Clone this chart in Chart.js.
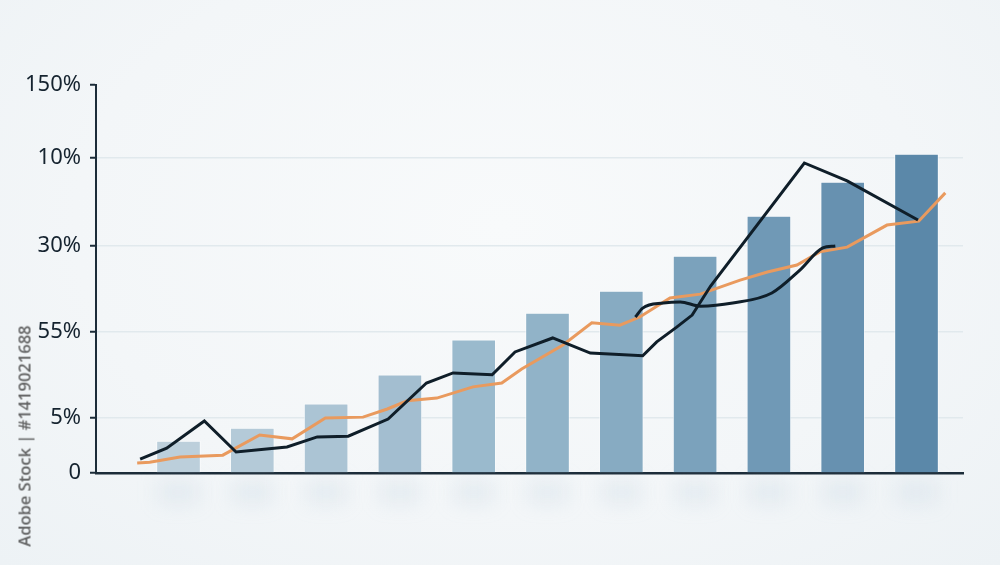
<!DOCTYPE html>
<html>
<head>
<meta charset="utf-8">
<script src="https://cdn.jsdelivr.net/npm/chart.js@4"></script>
<style>
    html, body { margin: 0; padding: 0; }
    body {
        width: 1000px;
        height: 565px;
        overflow: hidden;
        position: relative;
        background: radial-gradient(ellipse at 50% 40%, #f8fafb 0%, #f3f6f8 60%, #edf2f5 100%);
        font-family: "Noto Sans", sans-serif;
    }
    #chart { position: absolute; left: 0; top: 0; }
    .stock-id {
        position: absolute;
        left: 24px;
        top: 436px;
        transform: translate(-50%, -50%) rotate(-90deg);
        white-space: nowrap;
        font-family: "Open Sans", sans-serif;
        font-weight: 600;
        font-size: 16.5px;
        color: rgba(70, 70, 70, 0.85);
    }
</style>
</head>
<body>
<canvas id="chart" width="1000" height="565"></canvas>
<div class="stock-id">Adobe Stock | #1419021688</div>
<script>
document.addEventListener("DOMContentLoaded", () => {
    // y values are in axis units (0 = baseline, 100 = top tick)
    const barPositions = [1, 2, 3, 4, 5, 6, 7, 8, 9, 10, 11];
    const barValues = [8.2, 11.6, 17.8, 25.3, 34.3, 41.2, 46.9, 55.9, 66.2, 75.0, 82.2];
    const barColors = ['#bccfdb', '#b4cad8', '#abc4d4', '#a3bed0', '#9abacd', '#91b3c8',
                       '#87abc2', '#7ba2bc', '#7099b6', '#6791b0', '#5b88a9'];

    const orangeX = [0.44, 0.61, 1.02, 1.60, 2.10, 2.54, 2.99, 3.50, 3.83, 4.10, 4.50, 4.99, 5.38,
                     5.65, 6.21, 6.60, 6.98, 7.25, 7.66, 8.07, 8.61, 8.98, 9.38, 9.69, 10.06,
                     10.60, 11.03, 11.39];
    const orangeY = [2.6, 2.8, 4.1, 4.6, 9.8, 8.8, 14.2, 14.4, 16.5, 18.6, 19.3, 22.2, 23.2,
                     26.8, 33.0, 38.7, 38.1, 40.2, 45.1, 46.1, 49.7, 51.8, 53.6, 57.0, 58.2,
                     63.9, 64.9, 72.2];

    const darkAX = [0.48, 0.84, 1.35, 1.78, 2.47, 2.88, 3.30, 3.84, 4.36, 4.72, 5.25, 5.56,
                    6.07, 6.58, 7.29, 7.48, 7.75, 7.96, 8.21, 9.48, 10.06, 11.02];
    const darkAY = [3.6, 6.4, 13.4, 5.4, 6.7, 9.3, 9.5, 13.9, 23.2, 25.8, 25.3, 31.2,
                    34.8, 30.9, 30.2, 33.8, 37.6, 40.7, 48.2, 79.9, 75.3, 65.2];

    const darkBX = [7.19, 7.29, 7.57, 7.80, 8.07, 8.51, 9.04, 9.42, 9.73, 9.90];
    const darkBY = [40.2, 42.5, 43.8, 44.1, 43.0, 43.8, 46.4, 52.3, 58.0, 58.5];

    const yTickValues = [0, 14.2, 36.3, 58.5, 81.2, 100];
    const yTickLabels = ['0', '5%', '55%', '30%', '10%', '150%'];

    const toPoints = (xs, ys) => xs.map((x, i) => ({ x: x, y: ys[i] }));

    const axisColor = '#1c2c39';

    // soft bluish glow under each bar, below the baseline
    const barShadow = {
        id: 'barShadow',
        beforeDatasetsDraw(chart) {
            const meta = chart.getDatasetMeta(3);
            const ctx = chart.ctx;
            const bottom = chart.chartArea.bottom;
            ctx.save();
            ctx.filter = 'blur(10px)';
            ctx.fillStyle = 'rgba(165, 192, 208, 0.2)';
            meta.data.forEach(bar => {
                ctx.fillRect(bar.x - bar.width / 2 + 2, bottom + 8, bar.width - 4, 22);
            });
            ctx.restore();
        }
    };

    new Chart(document.getElementById('chart'), {
        data: {
            datasets: [
                {
                    type: 'line',
                    data: toPoints(darkAX, darkAY),
                    borderColor: '#0f1e29',
                    borderWidth: 3,
                    pointRadius: 0,
                    tension: 0,
                    order: 0
                },
                {
                    type: 'line',
                    data: toPoints(darkBX, darkBY),
                    borderColor: '#0f1e29',
                    borderWidth: 3,
                    pointRadius: 0,
                    cubicInterpolationMode: 'monotone',
                    order: 0
                },
                {
                    type: 'line',
                    data: toPoints(orangeX, orangeY),
                    borderColor: '#e99a5e',
                    borderWidth: 3,
                    pointRadius: 0,
                    tension: 0,
                    order: 1
                },
                {
                    type: 'bar',
                    data: toPoints(barPositions, barValues),
                    backgroundColor: barColors,
                    borderColor: 'rgba(255, 255, 255, 0.55)',
                    borderWidth: 1,
                    barThickness: 44,
                    order: 2
                }
            ]
        },
        options: {
            responsive: false,
            animation: false,
            devicePixelRatio: 1,
            layout: { padding: { top: 85, right: 37, bottom: 92, left: 0 } },
            plugins: {
                legend: { display: false },
                tooltip: { enabled: false }
            },
            scales: {
                x: {
                    type: 'linear',
                    offset: false,
                    min: -0.118,
                    max: 11.63,
                    ticks: { display: false },
                    grid: { display: false, drawTicks: false },
                    border: { display: true, color: axisColor, width: 2.5 }
                },
                y: {
                    min: 0,
                    max: 100,
                    afterBuildTicks: scale => {
                        scale.ticks = yTickValues.map(v => ({ value: v }));
                    },
                    afterFit: scale => {
                        scale.width = 96;
                    },
                    ticks: {
                        padding: 9,
                        color: '#15232f',
                        font: { family: 'Noto Sans', size: 22 },
                        callback: (value, index) => yTickLabels[index]
                    },
                    grid: {
                        color: ctx => (ctx.tick && (ctx.tick.value === 0 || ctx.tick.value === 100))
                            ? 'rgba(0,0,0,0)' : '#e1e9ed',
                        lineWidth: 1.5,
                        tickColor: axisColor,
                        tickLength: 6,
                        tickWidth: 2
                    },
                    border: { display: true, color: axisColor, width: 2 }
                }
            }
        },
        plugins: [barShadow]
    });
});
</script>
</body>
</html>
